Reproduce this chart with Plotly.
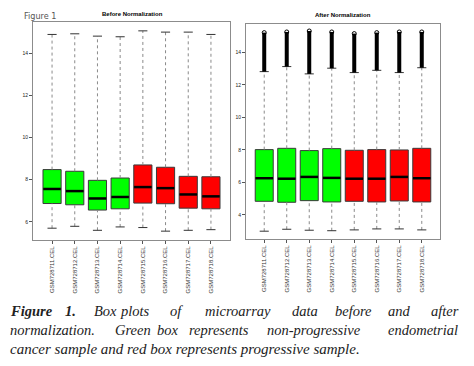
import plotly.graph_objects as go

# ---------------- data ----------------
samples = ["GSM728711.CEL", "GSM728712.CEL", "GSM728713.CEL", "GSM728714.CEL",
           "GSM728715.CEL", "GSM728716.CEL", "GSM728717.CEL", "GSM728718.CEL"]
group = ["non-progressive"] * 4 + ["progressive"] * 4

# Before normalization
before_q1 = [6.87, 6.81, 6.56, 6.62, 6.89, 6.86, 6.65, 6.62]
before_median = [7.56, 7.46, 7.11, 7.18, 7.65, 7.60, 7.30, 7.21]
before_q3 = [8.48, 8.40, 7.97, 8.08, 8.70, 8.59, 8.16, 8.14]
before_low = [5.70, 5.79, 5.60, 5.76, 5.73, 5.56, 5.60, 5.63]
before_high = [14.89, 14.92, 14.81, 14.78, 15.06, 15.00, 15.00, 14.89]

# After normalization
after_q1 = [4.84, 4.78, 4.88, 4.80, 4.84, 4.80, 4.86, 4.80]
after_median = [6.26, 6.23, 6.34, 6.28, 6.23, 6.23, 6.34, 6.26]
after_q3 = [8.02, 8.10, 7.96, 8.08, 7.98, 8.02, 8.00, 8.10]
after_low = [3.00, 3.12, 3.06, 3.03, 3.08, 3.14, 3.14, 3.08]
after_high = [12.82, 13.13, 12.68, 13.03, 12.76, 12.90, 12.76, 13.06]
after_outlier_max = [15.22, 15.26, 15.32, 15.26, 15.16, 15.22, 15.26, 15.26]

before_ticks = [6, 8, 10, 12, 14]
after_ticks = [4, 6, 8, 10, 12, 14]

colors = {"non-progressive": "#00ff00", "progressive": "#ff0000"}

W, H = 474, 366
fig = go.Figure()


def add_panel(q1, med, q3, low, high, xa, ya, outmax=None):
    pos = list(range(len(samples)))
    # whiskers (dotted)
    wx, wy = [], []
    for i in pos:
        wx += [i, i, None, i, i, None]
        wy += [low[i], q1[i], None, q3[i], high[i], None]
    fig.add_trace(go.Scatter(x=wx, y=wy, mode="lines", xaxis=xa, yaxis=ya,
                             line=dict(color="#8a8a8a", width=1, dash="dot"),
                             hoverinfo="skip", showlegend=False))
    # caps
    fig.add_trace(go.Scatter(x=pos + pos, y=low + high, mode="markers", xaxis=xa, yaxis=ya,
                             marker=dict(symbol="line-ew", size=6.5, color="#333333",
                                         line=dict(color="#333333", width=1)),
                             hoverinfo="skip", showlegend=False))
    # outliers
    if outmax is not None:
        ox, oy = [], []
        for i in pos:
            ox += [i, i, None]
            oy += [high[i], outmax[i], None]
        fig.add_trace(go.Scatter(x=ox, y=oy, mode="lines", xaxis=xa, yaxis=ya,
                                 line=dict(color="#000000", width=4),
                                 hoverinfo="skip", showlegend=False))
        fig.add_trace(go.Scatter(x=pos, y=outmax, mode="markers", xaxis=xa, yaxis=ya,
                                 marker=dict(symbol="circle-open", size=4, color="#000000",
                                             line=dict(color="#000000", width=1)),
                                 hoverinfo="skip", showlegend=False))
    # boxes
    for g in ["non-progressive", "progressive"]:
        idx = [i for i in pos if group[i] == g]
        fig.add_trace(go.Box(
            x=idx, q1=[q1[i] for i in idx], median=[med[i] for i in idx],
            q3=[q3[i] for i in idx], lowerfence=[q1[i] for i in idx],
            upperfence=[q3[i] for i in idx], xaxis=xa, yaxis=ya,
            fillcolor=colors[g], line=dict(color="#3a3a3a", width=1),
            width=0.8, whiskerwidth=0, showlegend=False, hoverinfo="skip"))
    # medians
    fig.add_trace(go.Scatter(x=pos, y=med, mode="markers", xaxis=xa, yaxis=ya,
                             marker=dict(symbol="line-ew", size=12.5, color="#000000",
                                         line=dict(color="#000000", width=2.5)),
                             hoverinfo="skip", showlegend=False))


add_panel(before_q1, before_median, before_q3, before_low, before_high, "x", "y")
add_panel(after_q1, after_median, after_q3, after_low, after_high, "x2", "y2",
          after_outlier_max)

axis_common = dict(showgrid=False, zeroline=False, showline=True, mirror=True,
                   linecolor="#8c8c8c", linewidth=1, ticks="outside", ticklen=3,
                   tickcolor="#555555", tickfont=dict(family="Arial", size=5, color="#222"))
xfont = dict(family="Arial", size=6, color="#333")

fig.update_layout(
    width=W, height=H, margin=dict(l=0, r=0, t=0, b=0),
    paper_bgcolor="white", plot_bgcolor="white", boxmode="overlay",
    xaxis=dict(domain=[33 / W, 230 / W], range=[-0.84, 7.84], tickmode="array",
               tickvals=list(range(8)), ticktext=samples, tickangle=-90, anchor="y",
               **{**axis_common, "tickfont": xfont}),
    yaxis=dict(domain=[1 - 240 / H, 1 - 22 / H], range=[5.14, 15.48], tickmode="array",
               tickvals=before_ticks, anchor="x", **axis_common),
    xaxis2=dict(domain=[246 / W, 440 / W], range=[-0.81, 7.81], tickmode="array",
                tickvals=list(range(8)), ticktext=samples, tickangle=-90, anchor="y2",
                **{**axis_common, "tickfont": xfont}),
    yaxis2=dict(domain=[1 - 239 / H, 1 - 24 / H], range=[2.52, 15.75], tickmode="array",
                tickvals=after_ticks, anchor="x2", **axis_common),
)

ann = []
ann.append(dict(text="Figure 1", x=22 / W, y=1 - 16 / H, xref="paper", yref="paper",
                xanchor="left", yanchor="middle", showarrow=False,
                font=dict(family="Liberation Sans Narrow, DejaVu Sans Condensed, Arial",
                          size=9, color="#555")))
ann.append(dict(text="<b>Before Normalization</b>", x=132 / W, y=1 - 14 / H, xref="paper",
                yref="paper", xanchor="center", yanchor="middle", showarrow=False,
                font=dict(family="Arial", size=6, color="#000")))
ann.append(dict(text="<b>After Normalization</b>", x=343 / W, y=1 - 15 / H, xref="paper",
                yref="paper", xanchor="center", yanchor="middle", showarrow=False,
                font=dict(family="Arial", size=6, color="#000")))

cap_font = dict(family="Liberation Serif, Times New Roman", size=14.5, color="#222")
line1 = [("<b><i>Figure</i></b>", 8), ("<b><i>1.</i></b>", 63), ("<i>Box</i>", 92),
         ("<i>plots</i>", 118), ("<i>of</i>", 168), ("<i>microarray</i>", 203),
         ("<i>data</i>", 290), ("<i>before</i>", 333), ("<i>and</i>", 386),
         ("<i>after</i>", 429)]
line2 = [("<i>normalization.</i>", 8), ("<i>Green</i>", 113), ("<i>box</i>", 155),
         ("<i>represents</i>", 187), ("<i>non-progressive</i>", 265),
         ("<i>endometrial</i>", 386)]
for words, yy in [(line1, 311), (line2, 330)]:
    for t, xx in words:
        ann.append(dict(text=t, x=xx / W, y=1 - yy / H, xref="paper", yref="paper",
                        xanchor="left", yanchor="middle", showarrow=False, font=cap_font))
ann.append(dict(text="<i>cancer sample and red box represents progressive sample.</i>",
                x=8 / W, y=1 - 349 / H, xref="paper", yref="paper", xanchor="left",
                yanchor="middle", showarrow=False,
                font={**cap_font, "size": 15}))
fig.update_layout(annotations=ann)

fig.write_html("out.html", config={"displayModeBar": False},
               post_script="document.body.style.margin='0';document.body.style.overflow='hidden';")
